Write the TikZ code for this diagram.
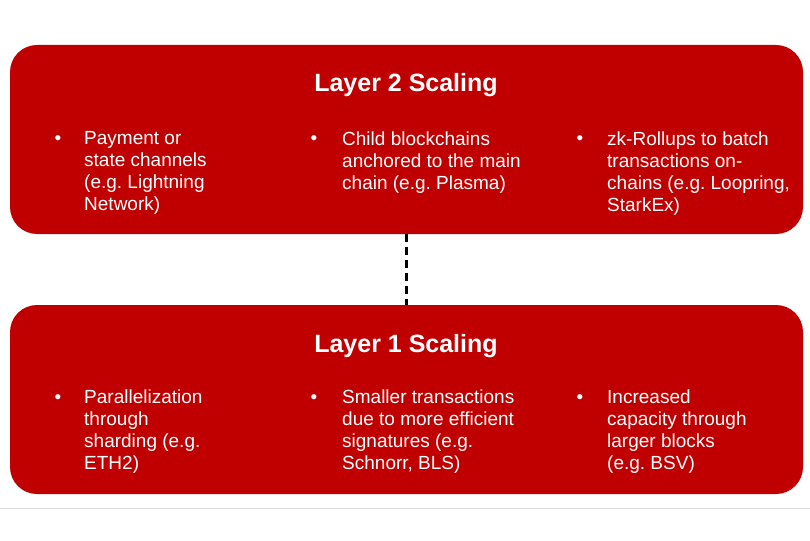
\documentclass[tikz,border=0pt]{standalone}
\usepackage{fontspec}
\setmainfont{Liberation Sans}
\frenchspacing
\usepackage{xcolor}
\definecolor{LayerRed}{HTML}{C00000}
\usepackage{tikz}
\usetikzlibrary{arrows.meta,positioning}

\begin{document}
\begin{tikzpicture}[
  x=1pt, y=-1pt,
  layerbox/.style={rounded corners=27pt, fill=LayerRed, draw=none, minimum width=793pt, minimum height=189pt},
  title/.style={text=white, font=\fontsize{25}{30}\selectfont\bfseries, anchor=base, inner sep=0pt},
  item/.style={text=white, font=\fontsize{19}{22}\selectfont, align=left, anchor=north west, inner sep=0pt},
  dot/.style={text=white, font=\fontsize{19}{22}\selectfont, anchor=base, inner sep=0pt},
  link/.style={draw=black, line width=3pt, dash pattern=on 8pt off 5pt},
]
\useasboundingbox (0,0) rectangle (810,540);
\node[layerbox] (l2) at (406.5,139.5) {};
\node[layerbox] (l1) at (406.5,399.5) {};
\node[title] (l2title) at (406,92) {Layer 2 Scaling};
\node[title] (l1title) at (406,352) {Layer 1 Scaling};
% layer 2 items
\node[dot] (d21) at (58,145) {•};
\node[item] (payment) at (84,131.5) {Payment or\\state channels\\(e.g. Lightning\\Network)};
\node[dot] (d22) at (314,145) {•};
\node[item] (child) at (342,131.5) {Child blockchains\\anchored to the main\\chain (e.g. Plasma)};
\node[dot] (d23) at (580,145) {•};
\node[item] (rollups) at (607,131.5) {zk-Rollups to batch\\transactions on-\\chains (e.g. Loopring,\\StarkEx)};
% layer 1 items
\node[dot] (d11) at (58,403) {•};
\node[item] (sharding) at (84,389.5) {Parallelization\\through\\sharding (e.g.\\ETH2)};
\node[dot] (d12) at (314,403) {•};
\node[item] (smaller) at (342,389.5) {Smaller transactions\\due to more efficient\\signatures (e.g.\\Schnorr, BLS)};
\node[dot] (d13) at (580,403) {•};
\node[item] (blocks) at (607,389.5) {Increased\\capacity through\\larger blocks\\(e.g. BSV)};
\draw[link] (l2.south) -- (l1.north);
\draw[black!15, line width=1pt] (0,508) -- (810,508);
\end{tikzpicture}
\end{document}
